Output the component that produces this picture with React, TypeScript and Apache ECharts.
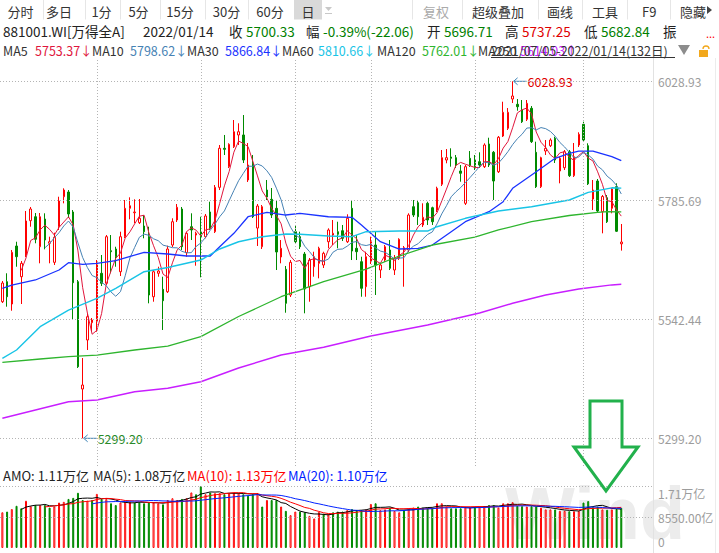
import React, { useEffect, useRef } from "react";
import * as echarts from "echarts";

const FONT = '"Noto Sans CJK SC", "Noto Sans", sans-serif';

// Trading calendar of the window, month -> trading days
const tradingDays: [string, number[]][] = [
  ["2021/07", [5, 6, 7, 8, 9, 12, 13, 14, 15, 16, 19, 20, 21, 22, 23, 26, 27, 28, 29, 30]],
  ["2021/08", [2, 3, 4, 5, 6, 9, 10, 11, 12, 13, 16, 17, 18, 19, 20, 23, 24, 25, 26, 27, 30, 31]],
  ["2021/09", [1, 2, 3, 6, 7, 8, 9, 10, 13, 14, 15, 16, 17, 22, 23, 24, 27, 28, 29, 30]],
  ["2021/10", [8, 11, 12, 13, 14, 15, 18, 19, 20, 21, 22, 25, 26, 27, 28, 29]],
  ["2021/11", [1, 2, 3, 4, 5, 8, 9, 10, 11, 12, 15, 16, 17, 18, 19, 22, 23, 24, 25, 26, 29, 30]],
  ["2021/12", [1, 2, 3, 6, 7, 8, 9, 10, 13, 14, 15, 16, 17, 20, 21, 22, 23, 24, 27, 28, 29, 30, 31]],
  ["2022/01", [4, 5, 6, 7, 10, 11, 12, 13, 14]],
];

// 881001.WI daily prices
const open = [
  5578.4, 5619.3, 5573.7, 5692.3, 5629.5, 5673.9, 5744.0, 5752.1, 5690.8, 5747.4,
  5697.8, 5658.9, 5731.7, 5793.0, 5802.6, 5761.8, 5619.3, 5400.0, 5500.1, 5535.5,
  5537.5, 5636.5, 5616.0, 5682.6, 5686.1, 5639.7, 5711.3, 5769.3, 5760.3, 5739.9,
  5733.1, 5711.3, 5588.6, 5636.5, 5603.7, 5598.8, 5694.3, 5745.4, 5767.9, 5678.6,
  5731.7, 5714.7, 5721.5, 5711.3, 5761.8, 5721.5, 5812.2, 5892.0, 5854.4, 5895.2,
  5919.2, 5919.2, 5827.2, 5861.3, 5729.0, 5690.8, 5806.7, 5787.7, 5769.3, 5669.8,
  5644.6, 5592.1, 5721.5, 5711.3, 5675.9, 5609.1, 5649.9, 5656.9, 5653.4, 5701.0,
  5714.7, 5721.5, 5723.5, 5701.0, 5769.3, 5687.6, 5660.2, 5609.1, 5660.2, 5694.3,
  5643.2, 5663.6, 5684.1, 5643.2, 5667.1, 5684.1, 5684.1, 5772.6, 5780.8, 5735.2,
  5779.5, 5770.5, 5765.8, 5818.4, 5868.0, 5874.2, 5872.8, 5845.6, 5779.5, 5871.5,
  5868.0, 5864.6, 5854.4, 5900.8, 5883.8, 5844.1, 5917.1, 5932.8, 5992.7, 5981.9,
  5970.3, 5951.2, 5973.7, 5883.8, 5813.5, 5886.4, 5897.3, 5912.4, 5845.6, 5852.3,
  5885.0, 5836.0, 5898.7, 5941.0, 5897.3, 5788.3, 5825.1, 5762.4, 5791.0, 5769.3,
  5813.5, 5696.71,
];
const close = [
  5616.6, 5588.6, 5679.4, 5670.4, 5656.9, 5743.4, 5767.9, 5706.0, 5752.1, 5704.5,
  5701.0, 5710.0, 5784.2, 5806.7, 5757.7, 5617.2, 5445.5, 5408.1, 5547.7, 5541.0,
  5657.5, 5616.0, 5711.3, 5680.6, 5670.4, 5711.3, 5769.3, 5774.6, 5761.8, 5748.9,
  5721.5, 5592.1, 5639.7, 5641.2, 5580.4, 5686.1, 5741.9, 5771.4, 5690.8, 5718.2,
  5725.0, 5718.2, 5711.3, 5753.6, 5728.4, 5812.2, 5892.0, 5889.9, 5900.1, 5925.9,
  5925.9, 5868.0, 5857.8, 5752.1, 5774.0, 5772.6, 5792.4, 5755.6, 5680.0, 5687.6,
  5575.1, 5658.9, 5701.0, 5690.8, 5604.4, 5663.6, 5670.4, 5687.6, 5677.3, 5725.0,
  5718.2, 5716.2, 5708.0, 5748.9, 5682.0, 5680.6, 5605.8, 5670.4, 5701.0, 5653.4,
  5653.4, 5690.8, 5646.7, 5667.1, 5706.0, 5688.8, 5755.6, 5755.6, 5752.1, 5750.9,
  5745.4, 5741.9, 5810.2, 5872.8, 5872.8, 5871.5, 5857.8, 5840.9, 5854.4, 5856.4,
  5854.4, 5857.8, 5898.7, 5857.8, 5825.1, 5914.5, 5965.6, 5965.6, 5998.9, 5977.0,
  5946.3, 5983.9, 5905.5, 5813.5, 5872.8, 5892.0, 5908.9, 5868.0, 5871.5, 5885.0,
  5836.0, 5874.8, 5920.6, 5908.9, 5819.35, 5806.7, 5763.8, 5793.43, 5741.9, 5808.8,
  5722.39, 5700.33,
];
const low = [
  5575.7, 5568.2, 5560.0, 5649.9, 5573.7, 5669.8, 5731.7, 5697.8, 5656.9, 5685.5,
  5656.9, 5653.4, 5725.0, 5779.5, 5749.5, 5541.0, 5442.9, 5299.2, 5479.7, 5517.1,
  5517.1, 5610.5, 5612.5, 5636.5, 5649.9, 5630.9, 5708.6, 5746.8, 5738.7, 5737.2,
  5708.0, 5575.1, 5578.4, 5629.5, 5520.6, 5596.2, 5690.2, 5741.3, 5684.1, 5670.4,
  5704.5, 5652.0, 5628.3, 5708.0, 5725.0, 5718.8, 5806.7, 5878.3, 5851.7, 5892.6,
  5898.7, 5861.9, 5823.1, 5749.5, 5692.3, 5686.1, 5786.3, 5749.5, 5643.2, 5656.9,
  5555.9, 5588.0, 5698.4, 5686.1, 5554.7, 5578.4, 5629.5, 5626.2, 5647.3, 5687.6,
  5694.3, 5687.6, 5702.5, 5698.4, 5663.6, 5663.6, 5588.6, 5588.6, 5655.5, 5592.1,
  5626.8, 5659.6, 5643.2, 5633.0, 5663.6, 5609.1, 5680.0, 5751.5, 5735.2, 5731.1,
  5735.2, 5735.2, 5761.8, 5814.9, 5861.3, 5854.4, 5851.7, 5823.7, 5776.1, 5853.7,
  5847.6, 5851.7, 5851.7, 5853.7, 5786.3, 5841.5, 5915.1, 5929.4, 5984.6, 5968.8,
  5943.7, 5947.8, 5902.8, 5810.8, 5810.8, 5878.3, 5894.6, 5861.9, 5820.4, 5847.6,
  5833.3, 5833.3, 5894.6, 5904.8, 5816.9, 5765.8, 5761.8, 5718.2, 5739.3, 5759.1,
  5720.9, 5682.84,
];
const high = [
  5620.7, 5636.5, 5684.1, 5701.0, 5661.6, 5763.8, 5772.0, 5759.7, 5759.7, 5759.1,
  5711.3, 5719.4, 5793.0, 5810.2, 5806.7, 5765.8, 5622.8, 5463.3, 5553.3, 5545.1,
  5663.6, 5673.9, 5714.7, 5714.7, 5690.8, 5721.5, 5786.3, 5791.8, 5787.7, 5788.3,
  5755.6, 5731.7, 5643.2, 5649.9, 5629.5, 5692.9, 5748.9, 5778.1, 5772.0, 5721.5,
  5759.1, 5721.5, 5752.1, 5757.7, 5782.8, 5816.9, 5898.7, 5919.2, 5902.2, 5949.8,
  5943.1, 5960.0, 5902.8, 5878.3, 5778.1, 5776.1, 5827.2, 5810.8, 5786.3, 5704.5,
  5651.4, 5663.6, 5733.1, 5721.5, 5680.0, 5667.7, 5680.6, 5690.8, 5680.6, 5728.4,
  5745.4, 5741.9, 5735.2, 5757.1, 5784.2, 5714.7, 5670.4, 5680.6, 5711.3, 5721.5,
  5657.5, 5694.3, 5704.5, 5673.9, 5708.0, 5692.3, 5759.1, 5786.3, 5786.3, 5779.5,
  5782.8, 5772.6, 5813.5, 5888.5, 5890.5, 5892.0, 5878.3, 5857.8, 5857.8, 5886.4,
  5878.3, 5883.8, 5902.2, 5913.6, 5886.4, 5917.1, 5987.2, 5974.3, 6028.93, 5992.7,
  5990.7, 5990.7, 5978.4, 5905.5, 5874.8, 5908.9, 5912.4, 5915.7, 5874.8, 5888.5,
  5888.5, 5902.8, 5924.7, 5946.3, 5902.2, 5827.2, 5829.2, 5796.5, 5796.5, 5810.2,
  5820.4, 5737.25,
];
// Turnover (AMO), 亿元
const amount = [
  9900, 10100, 10800, 11700, 11000, 13100, 11600, 11900, 11900, 11900,
  11200, 11500, 12600, 12800, 13600, 13900, 15300, 13300, 13100, 13300,
  15000, 13600, 13600, 12400, 11900, 12600, 12800, 12800, 12600, 12700,
  12400, 12600, 12600, 12400, 12100, 13300, 13800, 13300, 13600, 13800,
  15400, 14900, 17100, 14900, 15400, 15200, 15200, 14900, 15200, 15300,
  15200, 14900, 14500, 14900, 15200, 11500, 13300, 13300, 13300, 11500,
  10300, 9100, 10100, 10100, 9900, 8900, 8200, 10000, 9500, 9400,
  9900, 10100, 10100, 10500, 10800, 10500, 10500, 10700, 12200, 12400,
  10500, 10700, 11200, 10300, 9900, 10500, 11000, 11200, 11500, 11200,
  11200, 11200, 12400, 12400, 11500, 11000, 11000, 11000, 11500, 11200,
  11500, 11500, 11600, 11900, 11900, 11200, 12400, 12400, 12700, 11700,
  11600, 11500, 11600, 11500, 11200, 10700, 10700, 10700, 10300, 10300,
  10200, 10200, 10300, 12600, 13000, 11300, 11500, 10700, 10600, 10700,
  10800, 11100,
];

// Long moving averages (their look-back reaches before the window): [day index, value]
const ma30Pts: [number, number][] = [
  [0, 5605.8], [2, 5612.5], [7, 5622.8], [12, 5643.2], [14, 5658.1], [17, 5654.8], [20, 5656.9],
  [24, 5662.2], [30, 5679.4], [35, 5675.9], [39, 5671.8], [44, 5671.8], [46, 5690.8], [49, 5718.2],
  [52, 5752.1], [56, 5761.1], [60, 5755.6], [63, 5759.1], [69, 5752.1], [74, 5750.9], [76, 5735.2],
  [80, 5701.0], [84, 5686.1], [88, 5687.6], [91, 5694.3], [95, 5721.5], [98, 5741.9], [103, 5762.4],
  [106, 5782.8], [108, 5810.2], [113, 5844.1], [117, 5871.5], [120, 5881.7], [122, 5886.4],
  [125, 5886.4], [129, 5874.8], [131, 5866.84],
];
const ma60Pts: [number, number][] = [
  [0, 5462.7], [3, 5479.7], [8, 5527.3], [14, 5561.4], [20, 5585.3], [24, 5605.8], [30, 5639.7],
  [35, 5648.3], [42, 5663.6], [46, 5686.1], [50, 5701.0], [55, 5711.3], [60, 5716.8], [63, 5716.2],
  [69, 5712.7], [74, 5711.3], [77, 5721.5], [84, 5722.9], [90, 5722.9], [92, 5731.7], [98, 5748.9],
  [105, 5763.8], [112, 5772.6], [120, 5786.3], [124, 5802.0], [129, 5811.2], [131, 5810.66],
];
const ma120Pts: [number, number][] = [
  [0, 5454.5], [8, 5461.3], [14, 5466.0], [20, 5469.4], [28, 5479.7], [35, 5487.8], [42, 5506.9],
  [50, 5548.1], [59, 5588.6], [68, 5619.3], [77, 5645.2], [84, 5671.8], [91, 5694.3], [100, 5710.6],
  [105, 5725.0], [112, 5741.9], [120, 5754.6], [126, 5761.1], [128, 5762.4], [131, 5762.01],
];
const ma250Pts: [number, number][] = [
  [0, 5340.1], [7, 5357.0], [14, 5374.0], [20, 5377.5], [28, 5394.4], [35, 5401.4], [42, 5414.9],
  [50, 5442.9], [59, 5469.4], [68, 5485.2], [78, 5508.3], [90, 5530.8], [101, 5555.3], [108, 5575.1],
  [115, 5592.1], [122, 5604.4], [129, 5612.8], [131, 5614.03],
];

const UP = "#ff0000";
const DOWN = "#008a00";
const C_MA5 = "#e0163c";
const C_MA10 = "#4682b4";
const C_MA30 = "#1a33ff";
const C_MA60 = "#18c4e6";
const C_MA120 = "#2eb52e";
const C_MA250 = "#c81eff";

const dates: string[] = [];
tradingDays.forEach(([ym, ds]) => ds.forEach((d) => dates.push(`${ym}/${String(d).padStart(2, "0")}`)));
const N = dates.length;
const PAD = 6;
const cats = [...dates, ...Array.from({ length: PAD }, (_, k) => " ".repeat(k + 1))];
const monthStarts: number[] = [];
{
  let acc = 0;
  tradingDays.forEach(([, ds], m) => {
    if (m > 0) monthStarts.push(acc);
    acc += ds.length;
  });
}

function movingAvg(arr: number[], n: number): (number | null)[] {
  return arr.map((_, i) => {
    if (i < n - 1) return null;
    let s = 0;
    for (let k = i - n + 1; k <= i; k++) s += arr[k];
    return s / n;
  });
}
function fromPts(pts: [number, number][]): (number | null)[] {
  const out: (number | null)[] = new Array(N).fill(null);
  pts.forEach(([i, v]) => (out[i] = v));
  return out;
}
function fmtAmt(v: number): string {
  if (v === 0) return "0";
  return v >= 10000 ? `${(v / 10000).toFixed(2)}万亿` : `${v.toFixed(2)}亿`;
}

const App: React.FC = () => {
  const ref = useRef<HTMLDivElement>(null);

  useEffect(() => {
    if (!ref.current) return;
    const chart = echarts.init(ref.current, null, { renderer: "svg" });

    const lowMin = Math.min(...low);
    const highMax = Math.max(...high);
    const step = (highMax - lowMin) / 3;
    const priceTicks = [lowMin, lowMin + step, lowMin + 2 * step, highMax];
    const amtMax = Math.max(...amount);
    const amtTicks = [0, amtMax / 2, amtMax];

    const ma5 = movingAvg(close, 5);
    const ma10 = movingAvg(close, 10);
    const ma30 = fromPts(ma30Pts);
    const ma60 = fromPts(ma60Pts);
    const ma120 = fromPts(ma120Pts);
    const ma250 = fromPts(ma250Pts);
    const vma5 = movingAvg(amount, 5);
    const vma10 = movingAvg(amount, 10);
    const vma20 = movingAvg(amount, 20);

    const candles = dates.map((_, i) => [open[i], close[i], low[i], high[i]]);
    const vols = amount.map((v, i) => {
      const up = i === 0 ? close[i] >= open[i] : close[i] >= close[i - 1];
      return {
        value: v,
        itemStyle: up
          ? { color: "#ffffff", borderColor: UP, borderWidth: 1 }
          : { color: DOWN, borderColor: DOWN, borderWidth: 1 },
      };
    });

    const dotted = { color: "#b4b4b4", width: 1, type: [1, 2] as number[] };
    const maLine = (name: string, data: (number | null)[], color: string, width: number, connect = false) => ({
      name,
      type: "line",
      xAxisIndex: 0,
      yAxisIndex: 0,
      data,
      showSymbol: false,
      symbol: "none",
      connectNulls: connect,
      lineStyle: { color, width },
      z: 3,
      silent: true,
    });
    const volLine = (data: (number | null)[], color: string) => ({
      type: "line",
      xAxisIndex: 1,
      yAxisIndex: 1,
      data,
      symbol: "none",
      lineStyle: { color, width: 1 },
      z: 3,
      silent: true,
    });

    const option: any = {
      animation: false,
      backgroundColor: "#ffffff",
      grid: [
        { left: 0, width: 652, top: 81.3, height: 357 },
        { left: 0, width: 652, top: 486.3, height: 61.7 },
        { left: 0, width: 652, top: 58, height: 408 },
      ],
      xAxis: [0, 1, 2].map((g) => ({ type: "category", gridIndex: g, data: cats, boundaryGap: true, show: false })),
      yAxis: [
        { gridIndex: 0, type: "value", min: lowMin, max: highMax, show: false },
        { gridIndex: 1, type: "value", min: 0, max: amtMax, show: false },
        { gridIndex: 2, type: "value", min: 0, max: 1, show: false },
      ],
      series: [
        {
          // month separators
          type: "line",
          xAxisIndex: 2,
          yAxisIndex: 2,
          data: [],
          z: 0,
          silent: true,
          markLine: {
            silent: true,
            symbol: ["none", "none"],
            label: { show: false },
            lineStyle: dotted,
            data: monthStarts.map((i) => ({ xAxis: i })),
          },
        },
        {
          // price grid with right-hand labels
          type: "line",
          xAxisIndex: 0,
          yAxisIndex: 0,
          data: [],
          z: 0,
          silent: true,
          markLine: {
            silent: true,
            symbol: ["none", "none"],
            lineStyle: dotted,
            label: {
              show: true,
              position: "end",
              distance: 6,
              color: "#9c9c9c",
              fontSize: 12,
              fontFamily: FONT,
              formatter: (p: any) => Number(p.value).toFixed(2),
            },
            data: priceTicks.map((v) => ({ yAxis: v })),
          },
        },
        {
          type: "candlestick",
          xAxisIndex: 0,
          yAxisIndex: 0,
          data: candles,
          barWidth: 2,
          z: 2,
          silent: true,
          itemStyle: {
            color: "#ffffff",
            color0: DOWN,
            borderColor: UP,
            borderColor0: DOWN,
            borderColorDoji: UP,
            borderWidth: 1,
          },
        },
        maLine("MA5", ma5, C_MA5, 1),
        maLine("MA10", ma10, C_MA10, 1),
        maLine("MA30", ma30, C_MA30, 1.3, true),
        maLine("MA60", ma60, C_MA60, 1.4, true),
        maLine("MA120", ma120, C_MA120, 1.3, true),
        maLine("MA250", ma250, C_MA250, 1.5, true),
        {
          // turnover grid
          type: "line",
          xAxisIndex: 1,
          yAxisIndex: 1,
          data: [],
          z: 0,
          silent: true,
          markLine: {
            silent: true,
            symbol: ["none", "none"],
            lineStyle: dotted,
            label: { show: false },
            data: [{ yAxis: amtTicks[2] }, { yAxis: amtTicks[1] }],
          },
        },
        {
          type: "bar",
          xAxisIndex: 1,
          yAxisIndex: 1,
          data: vols,
          barWidth: 2,
          z: 2,
          silent: true,
        },
        volLine(vma5, "#000000"),
        volLine(vma10, "#ff0000"),
        volLine(vma20, "#0022ff"),
      ],
    };
    chart.setOption(option);

    // ---------- header, toolbar and annotations ----------
    const T = (x: number, y: number, text: string, fill: string, size = 13, extra: any = {}) => ({
      type: "text",
      x,
      y,
      silent: true,
      style: { text, fill, font: `${size}px ${FONT}`, verticalAlign: "middle", align: "left", ...extra },
    });
    const L = (x1: number, y1: number, x2: number, y2: number, stroke: string, lineWidth = 1) => ({
      type: "line",
      silent: true,
      shape: { x1, y1, x2, y2 },
      style: { stroke, lineWidth },
    });

    const g: any[] = [];
    // watermark
    g.push({
      type: "text",
      x: 505,
      y: 513,
      z: -1,
      silent: true,
      style: { text: "Wind", fill: "#ececec", font: `bold 74px "Liberation Sans", Arial, sans-serif`, verticalAlign: "middle" },
    });

    // toolbar
    const tabs: [string, number][] = [
      ["分时", 20.5], ["多日", 59], ["1分", 101.5], ["5分", 138.5], ["15分", 180], ["30分", 226.5], ["60分", 270], ["日", 308],
    ];
    g.push({ type: "rect", silent: true, shape: { x: 294, y: 0, width: 28, height: 19.5 }, style: { fill: "#d9d9d9" } });
    tabs.forEach(([t, cx]) => g.push(T(cx, 11, t, "#333333", 13, { align: "center" })));
    [43.5, 85.5, 120.5, 160.5, 205.5, 248.5, 412.5, 462.5, 538.5, 582.5, 627.5, 670.5].forEach((x) =>
      g.push(L(x, 0, x, 19.5, "#e6e6e6"))
    );
    g.push({ type: "polygon", silent: true, shape: { points: [[325, 7], [332, 7], [328.5, 11]] }, style: { fill: "#c8c8c8" } });
    g.push(L(325, 13.5, 332, 13.5, "#c8c8c8"));
    g.push(T(423, 11, "复权", "#aaaaaa"));
    g.push(T(472, 11, "超级叠加", "#333333"));
    g.push(T(547, 11, "画线", "#333333"));
    g.push(T(592, 11, "工具", "#333333"));
    g.push(T(642, 11, "F9", "#333333"));
    g.push(T(680, 11, "隐藏", "#333333"));
    g.push({ type: "polygon", silent: true, shape: { points: [[707, 6], [712, 10], [707, 14]] }, style: { fill: "#444444" } });

    // quote line
    const li = N - 1;
    const chg = close[li] - close[li - 1];
    const pct = (chg / close[li - 1]) * 100;
    const GREEN_T = "#008000";
    const RED_T = "#e00000";
    const upDn = (v: number, ref0: number) => (v >= ref0 ? RED_T : GREEN_T);
    g.push(T(3, 31, "881001.WI[万得全A]", "#222222", 13.5));
    g.push(T(143, 31, dates[li], "#222222", 13.5));
    g.push(T(229, 31, "收", "#222222", 13.5));
    g.push(T(246, 31, close[li].toFixed(2), upDn(close[li], close[li - 1]), 13.5));
    g.push(T(306, 31, "幅", "#222222", 13.5));
    g.push(T(323, 31, `${pct.toFixed(2)}%(${chg.toFixed(2)})`, upDn(chg, 0), 13.5));
    g.push(T(427, 31, "开", "#222222", 13.5));
    g.push(T(444, 31, open[li].toFixed(2), upDn(open[li], close[li - 1]), 13.5));
    g.push(T(505, 31, "高", "#222222", 13.5));
    g.push(T(522, 31, high[li].toFixed(2), upDn(high[li], close[li - 1]), 13.5));
    g.push(T(584, 31, "低", "#222222", 13.5));
    g.push(T(601, 31, low[li].toFixed(2), upDn(low[li], close[li - 1]), 13.5));
    g.push(T(663, 31, "振", "#222222", 13.5));
    g.push(T(706, 33, "...", "#ff0000", 11));

    // moving-average legend
    const lastOf = (a: (number | null)[]) => {
      const vals = a.filter((v) => v != null) as number[];
      return [vals[vals.length - 1], vals[vals.length - 2]];
    };
    const maItems: [string, (number | null)[], string, number, number][] = [
      ["MA5", ma5, C_MA5, 3, 35],
      ["MA10", ma10, C_MA10, 92, 130],
      ["MA30", ma30, C_MA30, 187, 225],
      ["MA60", ma60, C_MA60, 282, 318],
      ["MA120", ma120, C_MA120, 377, 422],
      ["MA250", ma250, C_MA250, 478, 520],
    ];
    maItems.forEach(([name, arr, color, xn, xv]) => {
      const [v, pv] = lastOf(arr);
      g.push(T(xn, 50, name, "#333333", 12.5));
      g.push(T(xv, 50, `${v.toFixed(2)}${v >= pv ? "↑" : "↓"}`, color, 12.5));
    });
    const rangeText = `${dates[0]}-${dates[li]}(${N}日)`;
    g.push(T(491, 50, rangeText, "#333333", 12.5));
    g.push(L(491, 57.5, 675, 57.5, "#333333"));
    g.push({ type: "polygon", silent: true, shape: { points: [[678, 45], [690, 45], [684, 55]] }, style: { fill: "#8c8c8c" } });
    g.push({ type: "rect", silent: true, shape: { x: 699, y: 50, width: 9, height: 7 }, style: { fill: "#f2a81d" } });
    g.push({ type: "arc", silent: true, shape: { cx: 706, cy: 49, r: 3, startAngle: Math.PI, endAngle: 2 * Math.PI }, style: { stroke: "#f2a81d", lineWidth: 1.3, fill: "none" } });

    // turnover legend
    const [a0] = lastOf(amount);
    g.push(T(3, 475, `AMO: ${fmtAmt(a0)}`, "#222222", 13));
    g.push(T(93, 475, `MA(5): ${fmtAmt(lastOf(vma5)[0])}`, "#222222", 13));
    g.push(T(187, 475, `MA(10): ${fmtAmt(lastOf(vma10)[0])}`, "#ff0000", 13));
    g.push(T(288, 475, `MA(20): ${fmtAmt(lastOf(vma20)[0])}`, "#0022ff", 13));

    // turnover axis labels: top one hangs below its line, bottom one sits above it
    amtTicks.forEach((v, k) => {
      const [, py] = chart.convertToPixel({ xAxisIndex: 1, yAxisIndex: 1 }, [0, v]) as number[];
      const va = k === 2 ? "top" : k === 0 ? "bottom" : "middle";
      const yy = k === 2 ? py + 1 : k === 0 ? py - 1 : py;
      g.push(T(658, yy, fmtAmt(v), "#9c9c9c", 12, { verticalAlign: va }));
    });

    // frame lines
    g.push(L(653.5, 58, 653.5, 553, "#e2e2e2"));
    g.push(L(715.5, 58, 715.5, 553, "#ececec"));

    // extremes
    const hiIdx = high.indexOf(highMax);
    const loIdx = low.indexOf(lowMin);
    const [hx, hy] = chart.convertToPixel({ xAxisIndex: 0, yAxisIndex: 0 }, [hiIdx, highMax]) as number[];
    const [lx, ly] = chart.convertToPixel({ xAxisIndex: 0, yAxisIndex: 0 }, [loIdx, lowMin]) as number[];
    const mark = (x: number, y: number, text: string, color: string) => {
      g.push(L(x + 1, y, x + 14, y, "#3d84b8"));
      g.push({ type: "polyline", silent: true, shape: { points: [[x + 5, y - 3.5], [x + 1, y], [x + 5, y + 3.5]] }, style: { stroke: "#3d84b8", lineWidth: 1, fill: "none" } });
      g.push(T(x + 15, y, text, color, 12.5));
    };
    mark(hx, hy, highMax.toFixed(2), RED_T);
    mark(lx, ly, lowMin.toFixed(2), "#2a8a2a");

    // highlight arrow
    g.push({
      type: "polygon",
      z: 100,
      silent: true,
      shape: { points: [[590, 401], [622, 401], [622, 447], [638, 447], [606, 491], [574, 447], [590, 447]] },
      style: { fill: "none", stroke: "#22b14c", lineWidth: 3 },
    });

    chart.setOption({ graphic: g });

    return () => chart.dispose();
  }, []);

  return <div ref={ref} style={{ position: "fixed", left: 0, top: 0, width: 719, height: 553, background: "#fff" }} />;
};

export default App;
